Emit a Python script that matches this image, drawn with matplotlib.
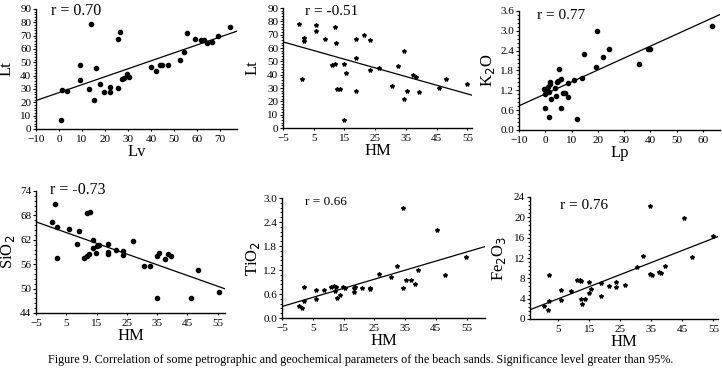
import matplotlib
matplotlib.use('Agg')
import matplotlib.pyplot as plt
import numpy as np
from matplotlib.ticker import AutoMinorLocator, FormatStrFormatter

plt.rcParams['font.family'] = ['Liberation Serif', 'DejaVu Serif']

# panel a: Lv vs Lt
lv = [1.0, 1.4, 3.6, 9.1, 9.1, 13.2, 13.8, 15.4, 16.0, 17.8, 19.4, 22.0, 22.0, 25.5, 25.5,
      26.7, 27.5, 28.1, 29.7, 30.7, 39.9, 42.3, 43.9, 44.9, 47.5, 52.6, 54.6, 55.9, 59.4,
      61.9, 63.0, 64.3, 66.5, 69.1, 74.6]
lt_a = [6.5, 29.5, 28.5, 48.0, 36.8, 30.0, 78.8, 22.0, 45.5, 33.5, 28.0, 31.5, 27.5, 30.8, 67.8,
        72.8, 37.5, 38.5, 41.5, 39.3, 46.5, 43.8, 48.3, 48.3, 47.8, 51.8, 57.8, 72.3, 67.5,
        66.8, 66.8, 64.5, 65.5, 69.5, 76.3]

# panel b: HM vs Lt
hm_b = [0.3, 1.2, 1.8, 1.8, 5.7, 5.8, 8.8, 11.8, 12.2, 10.8, 11.9, 12.6, 13.6, 14.7, 14.8,
        15.5, 18.6, 18.6, 18.6, 21.2, 23.3, 23.3, 26.4, 30.5, 32.4, 34.4, 34.4, 35.2, 37.4,
        38.2, 39.4, 45.7, 48.1, 55.0]
lt_b = [78.3, 36.8, 67.8, 65.0, 77.3, 72.5, 66.5, 76.0, 63.8, 47.3, 47.8, 29.3, 29.0, 47.8, 5.8,
        41.5, 66.8, 52.3, 28.0, 69.5, 66.3, 43.5, 45.3, 31.3, 46.5, 57.5, 21.8, 28.0, 39.5,
        38.3, 27.3, 30.3, 37.0, 33.0]

# panel c: Lp vs K2O
lp = [-0.2, -0.1, -0.3, 0.3, 0.9, 1.3, 1.3, 1.8, 1.9, 2.2, 3.9, 3.7, 4.5, 5.0, 5.1, 5.8, 5.8,
      6.8, 7.4, 8.8, 8.8, 10.8, 12.2, 14.0, 14.9, 19.2, 19.7, 21.8, 24.3, 35.7, 39.2, 39.9, 63.3]
k2o = [0.68, 1.08, 1.25, 1.25, 1.29, 0.38, 1.16, 1.45, 1.40, 0.93, 1.04, 1.28, 1.45, 1.49, 1.84,
       1.53, 0.66, 1.11, 1.13, 1.41, 1.01, 1.51, 0.33, 1.58, 2.30, 1.91, 2.99, 2.21, 2.45, 1.99,
       2.45, 2.45, 3.14]

# panel d: HM vs SiO2
hm_d = [0.4, 1.3, 1.8, 2.0, 5.9, 8.7, 9.1, 10.7, 11.9, 12.7, 12.0, 12.4, 13.8, 13.8, 14.8, 15.2,
        15.9, 18.7, 18.7, 18.7, 21.3, 23.8, 23.8, 26.9, 30.6, 32.8, 34.8, 34.8, 35.7, 37.6, 38.6,
        39.7, 46.1, 48.6, 55.5]
sio2 = [66.3, 70.7, 65.1, 57.5, 64.7, 60.9, 64.2, 57.6, 68.6, 68.8, 57.9, 58.4, 62.0, 60.1, 58.7,
        60.4, 60.7, 61.0, 59.1, 58.4, 59.4, 59.2, 58.3, 61.8, 55.6, 55.6, 57.9, 47.6, 58.8, 57.4,
        58.6, 58.1, 47.6, 54.5, 49.1]

# panel e: HM vs TiO2
hm_e = [0.6, 1.6, 2.1, 2.1, 6.1, 6.1, 8.8, 10.8, 11.8, 12.2, 12.7, 13.0, 13.9, 14.9, 15.6, 18.5,
        18.5, 18.6, 21.1, 23.6, 23.6, 26.5, 30.3, 32.4, 34.3, 34.4, 35.3, 37.1, 38.1, 39.1, 45.4,
        47.9, 54.8]
tio2 = [0.31, 0.24, 0.43, 0.78, 0.71, 0.48, 0.70, 0.78, 0.80, 0.68, 0.78, 0.50, 0.57, 0.77, 0.74,
        0.76, 0.64, 0.78, 0.76, 0.75, 0.73, 1.11, 1.02, 1.30, 2.76, 0.76, 0.94, 0.94, 0.84, 1.21,
        2.21, 1.08, 1.53]

# panel f: HM vs Fe2O3
hm_f = [0.4, 1.5, 2.0, 2.0, 5.9, 5.9, 8.9, 10.9, 12.0, 12.4, 12.2, 12.7, 13.7, 14.7, 14.9, 15.6,
        18.7, 18.8, 21.2, 23.6, 23.6, 26.4, 30.5, 32.4, 34.5, 34.5, 35.2, 37.4, 38.2, 39.3, 45.5,
        48.1, 54.9]
fe2o3 = [2.5, 1.7, 8.75, 3.5, 5.8, 3.7, 5.6, 7.6, 7.7, 7.4, 3.9, 3.0, 3.9, 7.2, 5.1, 5.9,
         4.6, 7.1, 6.5, 7.3, 6.25, 6.6, 10.2, 12.3, 22.2, 8.8, 8.7, 9.3, 9.1, 10.5, 19.8,
         12.1, 16.4]

ticks_a = [-10, 0, 10, 20, 30, 40, 50, 60, 70]
ticks_c = [-10, 0, 10, 20, 30, 40, 50, 60]
ticks_hm = [-5, 5, 15, 25, 35, 45, 55]

W, H = 722, 369
fig = plt.figure(figsize=(W / 100, H / 100), dpi=100)


def make_ax(l, r, t, b):
    return fig.add_axes([l / W, 1 - b / H, (r - l) / W, (b - t) / H])


panels = [
    # x, y, box(px), xlim, xticks, yticks, xlabel, ylabel, ylabel right edge(px), r-text, r-pos, r-size, marker
    (lv, lt_a, (36, 237, 9, 129), (-10, 77.5), ticks_a, np.arange(0, 91, 10), 'Lv', 'Lt', 15,
     'r = 0.70', (0.075, 0.983), 11.5, 'o'),
    (hm_b, lt_b, (283, 472, 8, 128), (-5, 56.5), ticks_hm, np.arange(0, 91, 10), 'HM', 'Lt', 261,
     'r = -0.51', (0.116, 0.967), 11, '*'),
    (lp, k2o, (519, 720, 11, 130), (-10, 66.5), ticks_c, np.arange(0, 3.61, 0.6), 'Lp', 'K$_2$O', 497,
     'r = 0.77', (0.09, 0.966), 11, 'o'),
    (hm_d, sio2, (36, 225, 191, 313), (-5, 57.4), ticks_hm, np.arange(44, 75, 6), 'HM', 'SiO$_2$', 17,
     'r = -0.73', (0.074, 1.008), 11.5, 'o'),
    (hm_e, tio2, (282, 485, 198, 318), (-5, 61), ticks_hm, np.arange(0, 3.01, 0.6), 'HM', 'TiO$_2$', 262,
     'r = 0.66', (0.113, 0.97), 9.5, '*'),
    (hm_f, fe2o3, (530, 718, 197, 319), (-4.2, 56.5), ticks_hm, np.arange(0, 25, 4), 'HM', 'Fe$_2$O$_3$', 508,
     'r = 0.76', (0.16, 0.93), 11, '*'),
]

for x, y, box, xlim, xt, yt, xl, yl, ylx, rt, rpos, rsz, mk in panels:
    ax = make_ax(*box)
    x = np.array(x)
    y = np.array(y)
    if mk == 'o':
        ax.plot(x, y, 'o', color='black', markersize=3.0, zorder=3)
    else:
        ax.plot(x, y, '*', color='black', markersize=3.0, zorder=3)
    slope, icpt = np.polyfit(x, y, 1)
    xx = np.array(xlim)
    ax.plot(xx, slope * xx + icpt, color='black', linewidth=0.9)
    ax.set_xticks(xt)
    ax.set_yticks(yt)
    ax.set_xlim(*xlim)
    ax.set_ylim(yt[0], yt[-1])
    ax.yaxis.set_minor_locator(AutoMinorLocator(5))
    if yt[-1] < 5:
        ax.yaxis.set_major_formatter(FormatStrFormatter('%.1f'))
    for s in ['top', 'right']:
        ax.spines[s].set_visible(False)
    for s in ['left', 'bottom']:
        ax.spines[s].set_linewidth(1.0)
    ax.tick_params(which='major', direction='out', length=2.5, width=0.8,
                   labelsize=8, pad=1)
    ax.tick_params(which='minor', direction='out', length=1.5, width=0.6)
    ax.tick_params(axis='x', which='major', length=1.5, pad=3)
    ax.set_xlabel(xl, fontsize=12, labelpad=0)
    ax.set_ylabel(yl, fontsize=12)
    ax.yaxis.set_label_coords((ylx - box[0]) / (box[1] - box[0]), 0.5)
    ax.text(rpos[0], rpos[1], rt, transform=ax.transAxes, fontsize=rsz,
            ha='left', va='center')

fig.text(0.5, 1 - 360 / H,
         'Figure 9. Correlation of some petrographic and geochemical parameters of the beach sands. '
         'Significance level greater than 95%.',
         ha='center', va='center', fontsize=8.7)

fig.savefig('out.png', dpi=100)
